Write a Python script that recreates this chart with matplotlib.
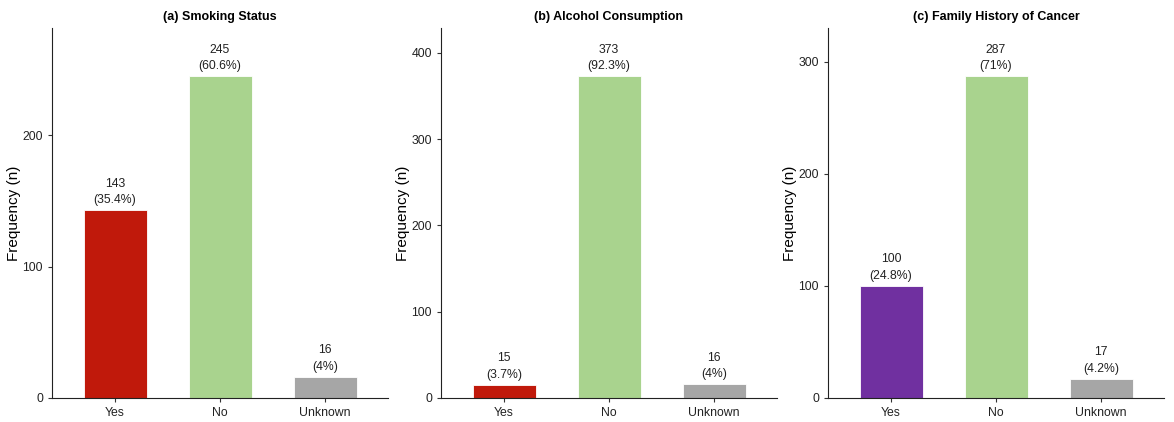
import numpy as np
import matplotlib
matplotlib.use('Agg')
import matplotlib.pyplot as plt

plt.rcParams['font.family'] = ['Liberation Sans', 'DejaVu Sans']

# Data
categories = ['Yes', 'No', 'Unknown']
titles = ['(a) Smoking Status', '(b) Alcohol Consumption', '(c) Family History of Cancer']
counts = [[143, 245, 16],
          [15, 373, 16],
          [100, 287, 17]]
percents = [['35.4%', '60.6%', '4%'],
            ['3.7%', '92.3%', '4%'],
            ['24.8%', '71%', '4.2%']]
yes_colors = ['#C0190B', '#C0190B', '#7030A0']
other_colors = ['#A9D38E', '#A6A6A6']
yticks = [[0, 100, 200], [0, 100, 200, 300, 400], [0, 100, 200, 300]]

fig = plt.figure(figsize=(11.74, 4.22), dpi=100)
lefts = [52, 441, 828]

for i in range(3):
    ax = fig.add_axes([lefts[i] / 1174, 24 / 422, 336 / 1174, 370 / 422])
    x = np.arange(len(categories))
    cols = [yes_colors[i]] + other_colors
    ax.bar(x, counts[i], width=0.6, color=cols, edgecolor='white', linewidth=0.6)
    for xi, c, p in zip(x, counts[i], percents[i]):
        ax.annotate('%d\n(%s)' % (c, p), (xi, c), xytext=(0, 3), textcoords='offset points',
                    ha='center', va='bottom', fontsize=8.8, color='#222222', linespacing=1.5)
    ax.set_xlim(-0.6, 2.6)
    ax.set_ylim(0, max(counts[i]) * 1.15)
    ax.set_xticks(x)
    ax.set_xticklabels(categories)
    ax.set_yticks(yticks[i])
    ax.tick_params(labelsize=8.8, colors='#333333', length=3, width=0.8)
    for lab in ax.get_xticklabels() + ax.get_yticklabels():
        lab.set_color('#222222')
    ax.spines['top'].set_visible(False)
    ax.spines['right'].set_visible(False)
    ax.spines['left'].set_color('#222222')
    ax.spines['bottom'].set_color('#222222')
    ax.set_ylabel('Frequency (n)', fontsize=11, labelpad=1)
    ax.set_title(titles[i], fontsize=9, fontweight='bold', pad=6)

fig.savefig('out.png', dpi=100)
